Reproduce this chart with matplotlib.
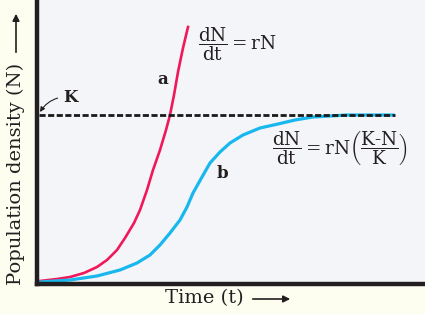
import matplotlib
matplotlib.use("Agg")
import matplotlib.pyplot as plt

plt.rcParams['mathtext.fontset'] = 'custom'
plt.rcParams['mathtext.rm'] = 'DejaVu Serif'
plt.rcParams['mathtext.it'] = 'DejaVu Serif:italic'
plt.rcParams['mathtext.bf'] = 'DejaVu Serif:bold'

# Data (time units, population units)
t_exp = [3, 20, 33, 47, 60, 70, 80, 88, 97, 103, 110, 116, 123, 129, 133, 137, 141, 146, 151]
n_exp = [3, 5, 7, 11, 17, 24, 34, 46, 61, 74, 94, 114, 134, 154, 169, 189, 212, 236, 257]
t_log = [3, 33, 60, 83, 100, 113, 123, 133, 143, 150, 156, 165, 173, 183, 193, 206, 223,
         241, 258, 276, 310, 356]
n_log = [2, 4, 8, 14, 21, 29, 39, 51, 64, 77, 91, 107, 121, 132, 141, 149, 156,
         160, 164, 167, 169, 169]
K = 169
k_span = [2, 358]

fig = plt.figure(figsize=(4.25, 3.14), dpi=100, facecolor='#fdfdf0')
ax = fig.add_axes([37/425, 30/314, 388/425, 284/314], facecolor='#f4f5f8')
ax.set_xlim(0, 388)
ax.set_ylim(0, 284)

ax.plot(t_exp, n_exp, color='#f0185a', lw=1.9, solid_joinstyle='round')
ax.plot(t_log, n_log, color='#18b8ee', lw=2.3, solid_joinstyle='round')
ax.plot(k_span, [K, K], color='#1a1a1a', lw=2, linestyle=(0, (2.2, 0.9)))

for s in ['top', 'right']:
    ax.spines[s].set_visible(False)
for s in ['left', 'bottom']:
    ax.spines[s].set_linewidth(3.2)
    ax.spines[s].set_color('#231f20')
ax.set_xticks([])
ax.set_yticks([])

ax.text(161, 240, r'$\dfrac{\mathrm{dN}}{\mathrm{dt}}=\mathrm{rN}$', fontsize=13.2,
        ha='left', va='center', color='#231f20')
ax.text(235, 136, r'$\dfrac{\mathrm{dN}}{\mathrm{dt}}=\mathrm{rN}\left(\dfrac{\mathrm{K\text{-}N}}{\mathrm{K}}\right)$',
        fontsize=13.2, ha='left', va='center', color='#231f20')
ax.text(126, 204, 'a', fontsize=12, fontweight='bold', family='DejaVu Serif',
        ha='center', va='center', color='#231f20')
ax.text(185, 111, 'b', fontsize=12, fontweight='bold', family='DejaVu Serif',
        ha='center', va='center', color='#231f20')
ax.annotate('K', xy=(3, K + 3), xytext=(26, 187), fontsize=12, fontweight='bold',
            family='DejaVu Serif', ha='left', va='center', color='#231f20',
            arrowprops=dict(arrowstyle='-|>', color='#231f20', lw=0.8,
                            connectionstyle='arc3,rad=0.3', mutation_scale=7,
                            shrinkA=2, shrinkB=0))

fig.text(165/425, 1 - 298/314, 'Time (t)', fontsize=14, family='DejaVu Serif',
         ha='left', va='center', color='#231f20')
fig.text(16/425, 1 - 285/314, 'Population density (N)', fontsize=14,
         family='DejaVu Serif', rotation=90, ha='center', va='bottom', color='#231f20')
fig.add_artist(matplotlib.patches.FancyArrowPatch(
    (250/425, 1 - 299/314), (293/425, 1 - 299/314), transform=fig.transFigure,
    arrowstyle='-|>', mutation_scale=10, color='#231f20', lw=1.2))
fig.add_artist(matplotlib.patches.FancyArrowPatch(
    (16/425, 1 - 55/314), (16/425, 1 - 11/314), transform=fig.transFigure,
    arrowstyle='-|>', mutation_scale=10, color='#231f20', lw=1.2))

fig.savefig('out.png', dpi=100, facecolor=fig.get_facecolor())
